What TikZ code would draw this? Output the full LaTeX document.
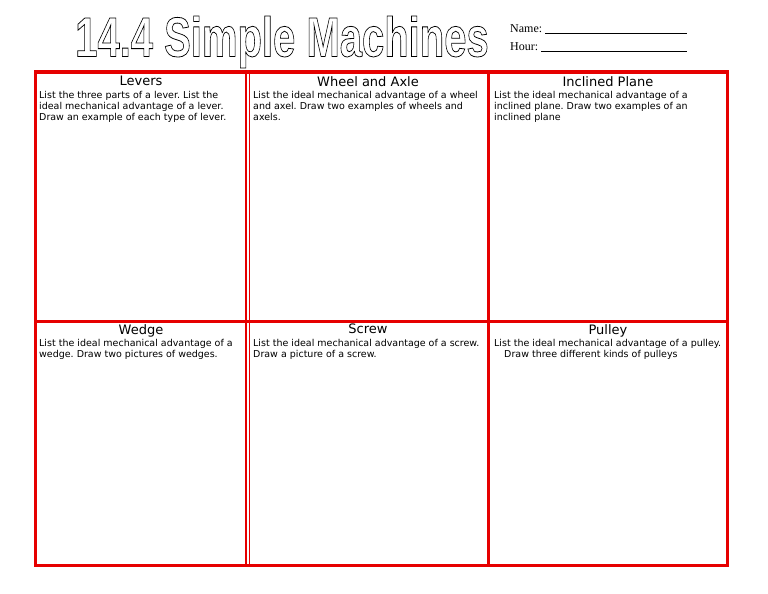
\documentclass[tikz,border=0pt]{standalone}
\usepackage{fontspec}
\setmainfont{DejaVu Sans}
\newfontfamily\titlefont{Liberation Sans}
\newfontfamily\serif{Liberation Serif}
\definecolor{red1}{RGB}{230,0,0}
\frenchspacing
\tikzset{
  heading/.style={font=\fontsize{13}{14}\selectfont, anchor=north, inner sep=0pt},
  body/.style={font=\fontsize{9.5}{11.2}\selectfont, anchor=north west, align=left, inner sep=0pt},
  thick red/.style={draw=red1, line width=3pt},
  thin red/.style={draw=red1, line width=1.2pt}
}
\begin{document}
\begin{tikzpicture}[x=1pt,y=-1pt]
\useasboundingbox[fill=white] (0,0) rectangle (768,594);
\node[inner sep=0pt, anchor=center] (title) at (282,42)
  {\special{pdf:literal direct 1 Tr 0.7 w}\titlefont\bfseries\fontsize{50}{50}\selectfont\scalebox{0.8}[1.12]{14.4 Simple Machines}\special{pdf:literal direct 0 Tr}};
\node[anchor=west, inner sep=0pt, font=\serif\fontsize{12}{13}\selectfont] (name) at (510,29) {Name: \rule[-1pt]{142pt}{0.5pt}};
\node[anchor=west, inner sep=0pt, font=\serif\fontsize{12}{13}\selectfont] (hour) at (510,47) {Hour: \rule[-1pt]{146pt}{0.5pt}};
% grid
\draw[thick red] (35,72) rectangle (727,565);
\draw[thick red] (35,321) -- (727,321);
\draw[thick red] (488,72) -- (488,565);
\draw[thin red] (246,72) -- (246,565);
\draw[thin red] (249.5,72) -- (249.5,565);
% cells
\node[heading] (h1) at (141,76) {Levers};
\node[body] (b1) at (39,91) {List the three parts of a lever. List the\\ideal mechanical advantage of a lever.\\Draw an example of each type of lever.};
\node[heading] (h2) at (368,76) {Wheel and Axle};
\node[body] (b2) at (253,91) {List the ideal mechanical advantage of a wheel\\and axel. Draw two examples of wheels and\\axels.};
\node[heading] (h3) at (608,76) {Inclined Plane};
\node[body] (b3) at (494,91) {List the ideal mechanical advantage of a\\inclined plane. Draw two examples of an\\inclined plane};
\node[heading] (h4) at (141,324) {Wedge};
\node[body] (b4) at (39,339) {List the ideal mechanical advantage of a\\wedge. Draw two pictures of wedges.};
\node[heading] (h5) at (368,324) {Screw};
\node[body] (b5) at (253,339) {List the ideal mechanical advantage of a screw.\\Draw a picture of a screw.};
\node[heading] (h6) at (608,324) {Pulley};
\node[body] (b6) at (494,339) {List the ideal mechanical advantage of a pulley.\\\hspace*{10pt}Draw three different kinds of pulleys};
\end{tikzpicture}
\end{document}
